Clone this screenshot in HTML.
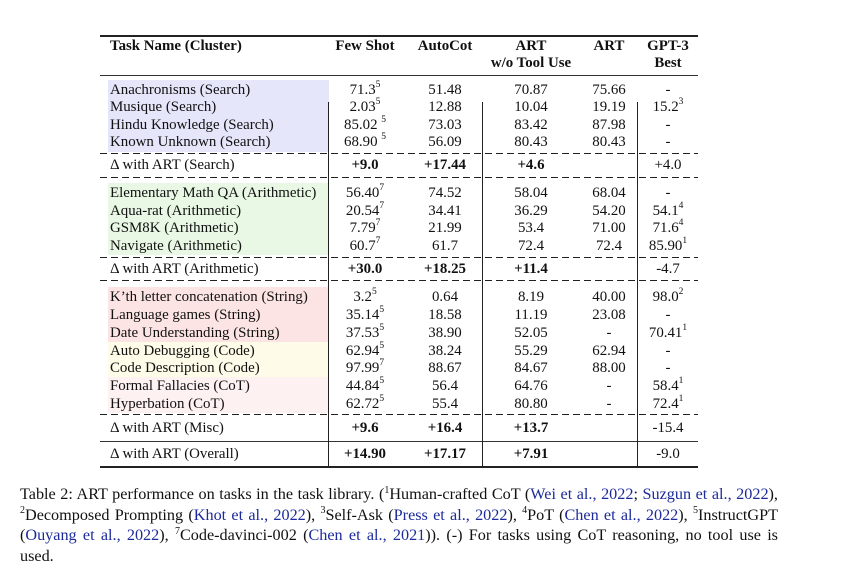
<!DOCTYPE html>
<html><head><meta charset="utf-8">
<style>
html,body{margin:0;padding:0;background:#fff;}
body{width:860px;height:585px;position:relative;overflow:hidden;font-family:"Liberation Serif",serif;color:#111;}
.abs{position:absolute;}
.c{position:absolute;font-size:14.9px;line-height:16px;white-space:nowrap;}
.ctr{transform:translateX(-50%);}
.b{font-weight:bold;}
sup{font-size:9.5px;line-height:0;position:relative;top:-1px;vertical-align:super;}
.dash{position:absolute;left:100px;width:598px;height:1.3px;background:repeating-linear-gradient(90deg,#222 0 7px,transparent 7px 11px);}
.solid{position:absolute;left:100px;width:598px;height:0;border-top:1.2px solid #333;}
.thick{border-top:2px solid #222;}
.vl{position:absolute;width:0;border-left:1.2px solid #222;}
.caption{position:absolute;left:20px;top:484px;width:758px;font-size:16.2px;line-height:20.5px;}
.caption .ln{white-space:nowrap;text-align:justify;text-align-last:justify;height:20.5px;}
.caption .last{text-align-last:left;}
.caption a{color:#1c2a9a;text-decoration:none;}
.caption sup{font-size:10px;top:0;}
</style></head>
<body>
<div id="table" class="abs" style="left:0;top:0;width:860px;height:480px">
  <div class="abs" style="left:108px;top:80px;width:221px;height:72px;background:#e6e6fb"></div>
  <div class="abs" style="left:108px;top:183px;width:221px;height:72px;background:#e9f8e5"></div>
  <div class="abs" style="left:108px;top:287px;width:221px;height:55px;background:#fde4e4"></div>
  <div class="abs" style="left:108px;top:342px;width:221px;height:35px;background:#fefbe8"></div>
  <div class="abs" style="left:108px;top:377px;width:221px;height:36px;background:#fdf1f1"></div>

  <div class="solid thick" style="top:35px"></div>
  <div class="solid" style="top:75px;border-top-width:1.5px"></div>
  <div class="solid thick" style="top:466px"></div>
  <div class="solid" style="top:441px"></div>
  <div class="dash" style="top:153px"></div>
  <div class="dash" style="top:177px"></div>
  <div class="dash" style="top:257px"></div>
  <div class="dash" style="top:280px"></div>
  <div class="dash" style="top:414px"></div>

  <div class="vl" style="left:328px;top:102px;height:364px"></div>
  <div class="vl" style="left:482px;top:102px;height:364px"></div>
  <div class="vl" style="left:637px;top:102px;height:364px"></div>

  <div class="c b" style="left:110px;top:38px">Task Name (Cluster)</div>
  <div class="c b ctr" style="left:365px;top:38px">Few Shot</div>
  <div class="c b ctr" style="left:445px;top:38px">AutoCot</div>
  <div class="c b ctr" style="left:531px;top:38px;text-align:center;line-height:17px">ART<br>w/o Tool Use</div>
  <div class="c b ctr" style="left:609px;top:38px">ART</div>
  <div class="c b ctr" style="left:668px;top:38px;text-align:center;line-height:17px">GPT-3<br>Best</div>
</div>

<div class="caption">
<div class="ln">Table 2: ART performance on tasks in the task library. (<sup>1</sup>Human-crafted CoT (<a>Wei et al., 2022</a>; <a>Suzgun et al., 2022</a>),</div>
<div class="ln"><sup>2</sup>Decomposed Prompting (<a>Khot et al., 2022</a>), <sup>3</sup>Self-Ask (<a>Press et al., 2022</a>), <sup>4</sup>PoT (<a>Chen et al., 2022</a>), <sup>5</sup>InstructGPT</div>
<div class="ln">(<a>Ouyang et al., 2022</a>), <sup>7</sup>Code-davinci-002 (<a>Chen et al., 2021</a>)). (-) For tasks using CoT reasoning, no tool use is</div>
<div class="ln last">used.</div>
</div>

<script>
const colX = [365, 445, 531, 609, 668];
const rows = [
 [90,"Anachronisms (Search)",["71.3<sup>5</sup>","51.48","70.87","75.66","-"],0],
 [107,"Musique (Search)",["2.03<sup>5</sup>","12.88","10.04","19.19","15.2<sup>3</sup>"],0],
 [125,"Hindu Knowledge (Search)",["85.02 <sup>5</sup>","73.03","83.42","87.98","-"],0],
 [142,"Known Unknown (Search)",["68.90 <sup>5</sup>","56.09","80.43","80.43","-"],0],
 [165,"Δ with ART (Search)",["+9.0","+17.44","+4.6","","+4.0"],1],
 [193,"Elementary Math QA (Arithmetic)",["56.40<sup>7</sup>","74.52","58.04","68.04","-"],0],
 [211,"Aqua-rat (Arithmetic)",["20.54<sup>7</sup>","34.41","36.29","54.20","54.1<sup>4</sup>"],0],
 [228,"GSM8K (Arithmetic)",["7.79<sup>7</sup>","21.99","53.4","71.00","71.6<sup>4</sup>"],0],
 [246,"Navigate (Arithmetic)",["60.7<sup>7</sup>","61.7","72.4","72.4","85.90<sup>1</sup>"],0],
 [269,"Δ with ART (Arithmetic)",["+30.0","+18.25","+11.4","","-4.7"],1],
 [297,"K’th letter concatenation (String)",["3.2<sup>5</sup>","0.64","8.19","40.00","98.0<sup>2</sup>"],0],
 [315,"Language games (String)",["35.14<sup>5</sup>","18.58","11.19","23.08","-"],0],
 [333,"Date Understanding (String)",["37.53<sup>5</sup>","38.90","52.05","-","70.41<sup>1</sup>"],0],
 [351,"Auto Debugging (Code)",["62.94<sup>5</sup>","38.24","55.29","62.94","-"],0],
 [368,"Code Description (Code)",["97.99<sup>7</sup>","88.67","84.67","88.00","-"],0],
 [386,"Formal Fallacies (CoT)",["44.84<sup>5</sup>","56.4","64.76","-","58.4<sup>1</sup>"],0],
 [404,"Hyperbation (CoT)",["62.72<sup>5</sup>","55.4","80.80","-","72.4<sup>1</sup>"],0],
 [428,"Δ with ART (Misc)",["+9.6","+16.4","+13.7","","-15.4"],1],
 [454,"Δ with ART (Overall)",["+14.90","+17.17","+7.91","","-9.0"],1]
];
const t = document.getElementById('table');
rows.forEach(function(r){
  const n = document.createElement('div');
  n.className = 'c';
  n.style.left = '110px';
  n.style.top = (r[0]-8) + 'px';
  n.textContent = r[1];
  
  
  t.appendChild(n);
  r[2].forEach(function(v, i){
    if (!v) return;
    const d = document.createElement('div');
    d.className = 'c ctr' + (r[3] && i < 3 ? ' b' : '');
    d.style.left = colX[i] + 'px';
    d.style.top = (r[0]-8) + 'px';
    d.innerHTML = v;
    
    
    t.appendChild(d);
  });
});
</script>
</body></html>
